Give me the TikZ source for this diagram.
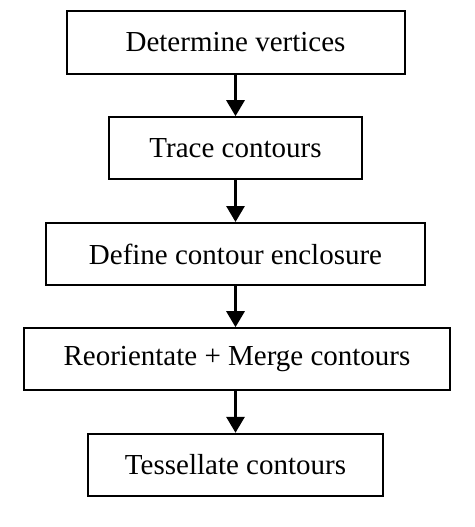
\documentclass[tikz,border=0pt]{standalone}
\usepackage{fontspec}
\setmainfont{Liberation Serif}
\usetikzlibrary{arrows.meta}
\usetikzlibrary{positioning}

\begin{document}
\begin{tikzpicture}[x=1pt,y=-1pt,
  stage/.style={draw,line width=2pt,minimum height=62pt,inner sep=0pt,
    font=\fontsize{29}{34}\selectfont},
  flow/.style={-{Triangle[length=16pt,width=18pt]},line width=3pt}]
  \useasboundingbox (0,0) rectangle (474,527);
  \node (dv) [stage,minimum width=338pt] at (235.5,42.5) {Determine vertices};
  \node (tc) [stage,minimum width=253pt] at (235.5,148.2) {Trace contours};
  \node (ce) [stage,minimum width=379pt] at (235.5,254) {Define contour enclosure};
  \node (mc) [stage,minimum width=426pt] at (237,359.2) {Reorientate + Merge contours};
  \node (ts) [stage,minimum width=295pt] at (235.5,464.8) {Tessellate contours};
  \draw[flow] (dv) -- (tc.north -| dv);
  \draw[flow] (tc) -- (ce.north -| tc);
  \draw[flow] (ce) -- (mc.north -| ce);
  \draw[flow] (mc.south -| ce) -- (ts);
\end{tikzpicture}
\end{document}
